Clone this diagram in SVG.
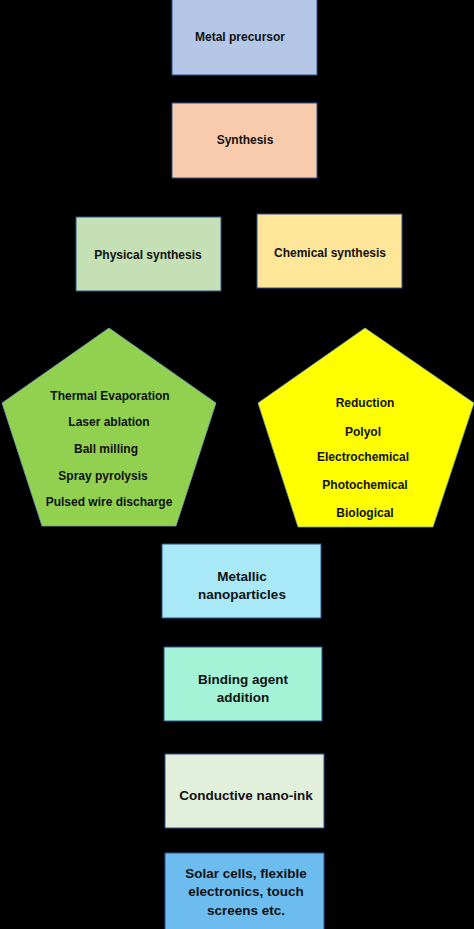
<svg xmlns="http://www.w3.org/2000/svg" width="474" height="929" viewBox="0 0 474 929">
<defs>
<style>
.box{stroke:#2f528f;stroke-width:1}
.t{font-family:"Liberation Sans",Arial,sans-serif;font-weight:bold;font-size:12px;fill:#111;text-anchor:middle}
.t2{font-family:"Liberation Sans",Arial,sans-serif;font-weight:bold;font-size:13.5px;fill:#111;text-anchor:middle}
.c{stroke:#000;stroke-width:1.5;fill:none;marker-end:url(#ah)}
</style>
<marker id="ah" viewBox="0 0 10 10" refX="9" refY="5" markerWidth="6" markerHeight="6" orient="auto"><path d="M0,0L10,5L0,10z" fill="#000"/></marker>
</defs>
<rect width="474" height="929" fill="#000"/>
<g id="connectors">
<path class="c" d="M245,75L245,102"/>
<path class="c" d="M200,178L140,216"/>
<path class="c" d="M290,178L330,213"/>
<path class="c" d="M133,291L112,327"/>
<path class="c" d="M338,288L362,327"/>
<path class="c" d="M176,526L200,543"/>
<path class="c" d="M365,526L290,543"/>
<path class="c" d="M242,618L242,646"/>
<path class="c" d="M243,721L243,753"/>
<path class="c" d="M244,828L244,852"/>
</g>
<g id="n1"><rect class="box" x="172" y="-1" width="145" height="76" fill="#b4c7e7"/><text class="t" x="240" y="41">Metal precursor</text></g>
<g id="n2"><rect class="box" x="172" y="103" width="145" height="75" fill="#f8cbad"/><text class="t" x="245" y="144">Synthesis</text></g>
<g id="n3"><rect class="box" x="76" y="217" width="145" height="74" fill="#c5e0b4"/><text class="t" x="148" y="259">Physical synthesis</text></g>
<g id="n4"><rect class="box" x="257" y="214" width="145" height="74" fill="#ffe699"/><text class="t" x="330" y="257">Chemical synthesis</text></g>
<g id="n5"><polygon points="109,328 216,403 176,526 42,526 2,403" fill="#92d050" stroke="#6f9fc0" stroke-width="0.8"/>
<text class="t" x="110" y="400">Thermal Evaporation</text>
<text class="t" x="109" y="426">Laser ablation</text>
<text class="t" x="106" y="453">Ball milling</text>
<text class="t" x="103" y="480">Spray pyrolysis</text>
<text class="t" x="109" y="506">Pulsed wire discharge</text></g>
<g id="n6"><polygon points="365,328 474,403 433,527 298,527 258,403" fill="#ffff00" stroke="#6f9fc0" stroke-width="0.8"/>
<text class="t" x="365" y="407">Reduction</text>
<text class="t" x="363" y="436">Polyol</text>
<text class="t" x="363" y="461">Electrochemical</text>
<text class="t" x="365" y="489">Photochemical</text>
<text class="t" x="365" y="517">Biological</text></g>
<g id="n7"><rect class="box" x="162" y="544" width="159" height="74" fill="#a8e8f7"/><text class="t2" x="242" y="581">Metallic</text><text class="t2" x="242" y="599">nanoparticles</text></g>
<g id="n8"><rect class="box" x="164" y="647" width="158" height="74" fill="#a4f3d7"/><text class="t2" x="243" y="684">Binding agent</text><text class="t2" x="243" y="702">addition</text></g>
<g id="n9"><rect class="box" x="165" y="754" width="159" height="74" fill="#e2efda"/><text class="t2" x="246" y="800">Conductive nano-ink</text></g>
<g id="n10"><rect class="box" x="165" y="853" width="159" height="80" fill="#6cbcef"/><text class="t2" x="246" y="878">Solar cells, flexible</text><text class="t2" x="246" y="896">electronics, touch</text><text class="t2" x="246" y="915">screens etc.</text></g>
</svg>
